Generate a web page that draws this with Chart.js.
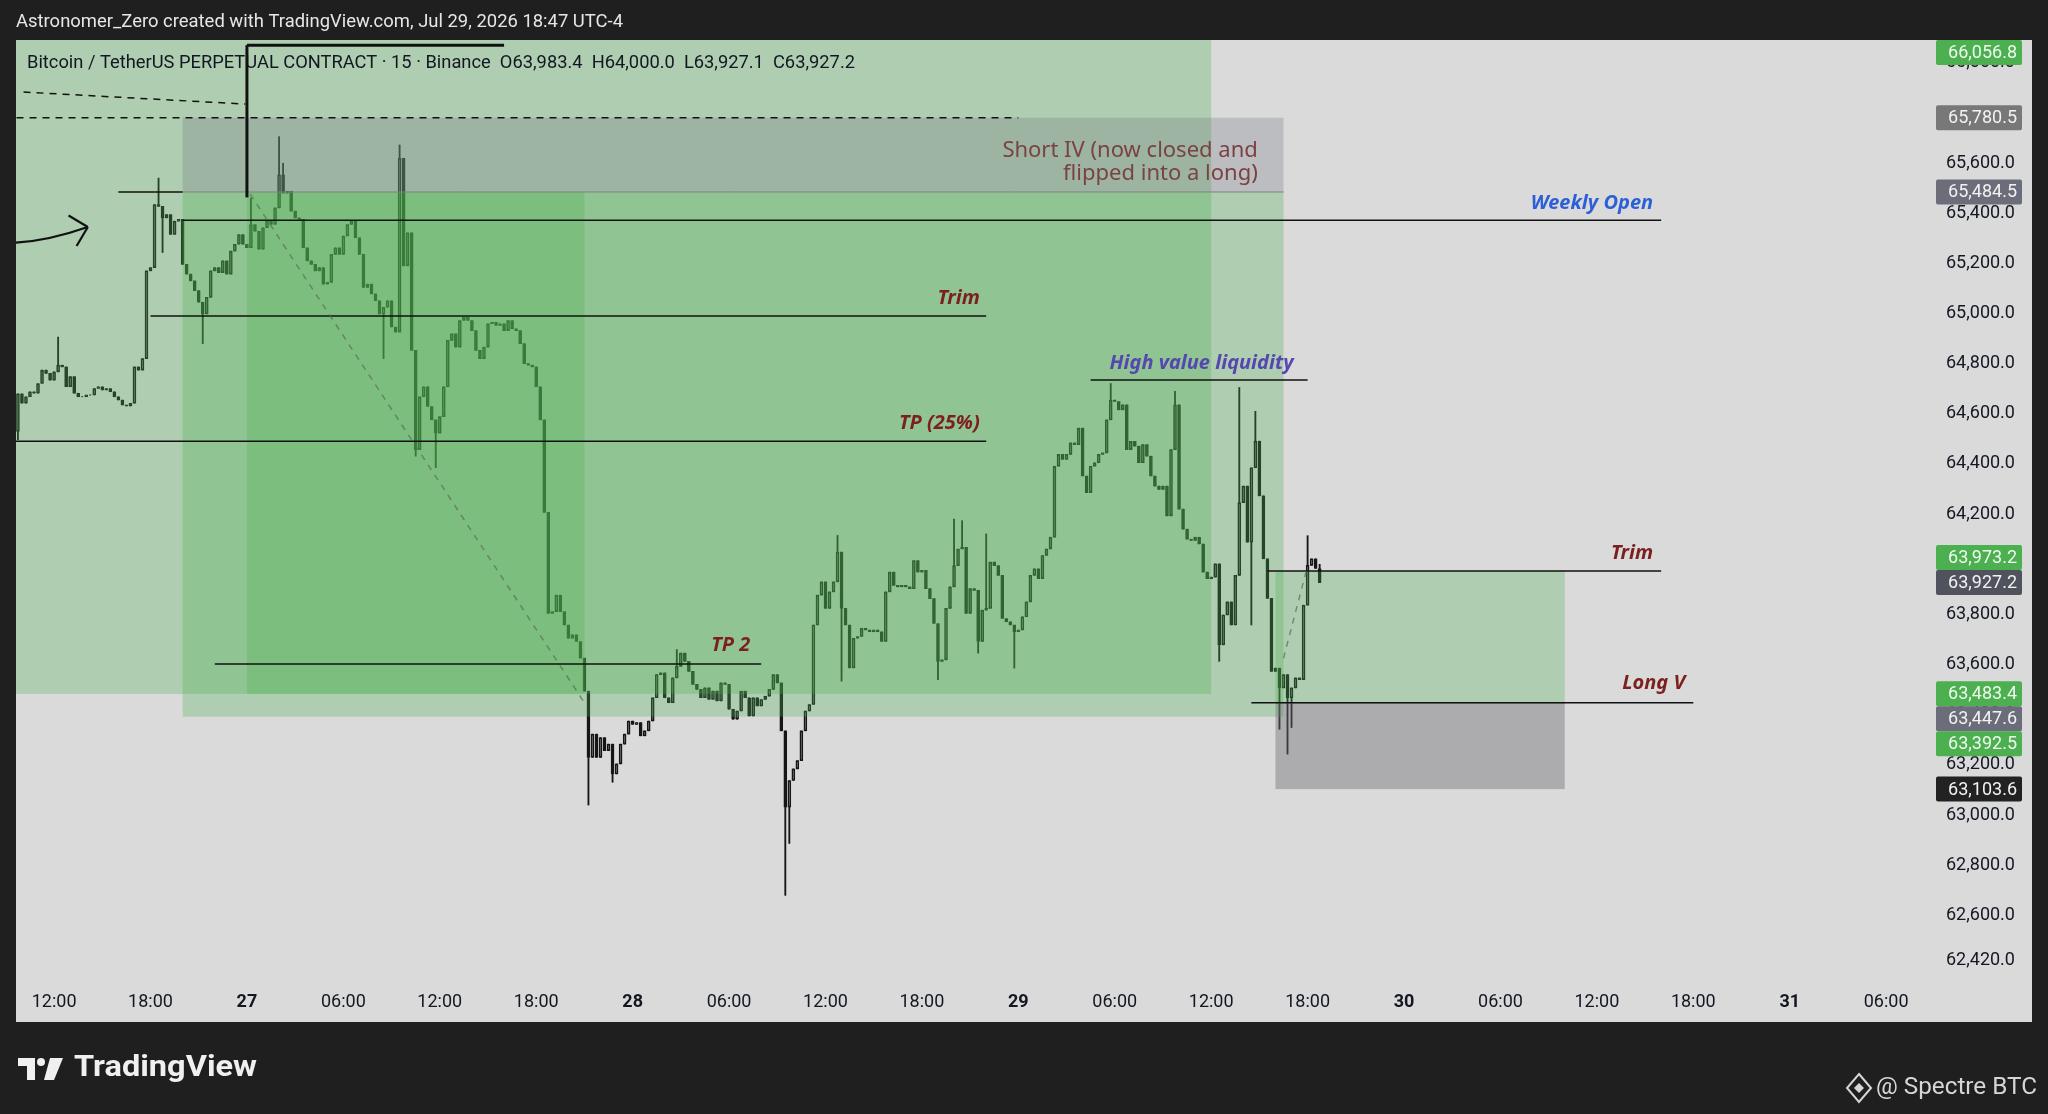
<!DOCTYPE html>
<html>
<head>
<meta charset="utf-8">
<title>BTCUSDT.P 15m</title>
<script src="https://cdn.jsdelivr.net/npm/chart.js@4.4.1/dist/chart.umd.min.js"></script>
<style>
  html, body { margin: 0; padding: 0; background: #1f1f1f; overflow: hidden; }
  #chart { display: block; }
</style>
</head>
<body>
<canvas id="chart" width="2048" height="1114"></canvas>
<script>
// Candles: 15m closes, hours counted from Jul 27 00:00 (UTC-4)
const startHour = -14.5;
const candleStep = 0.25;
const firstOpen = 64500;
const closes = [
  64530, 64680, 64642, 64668, 64688, 64682, 64721, 64774, 64761, 64734,
  64767, 64794, 64787, 64708, 64748, 64682, 64668, 64668, 64675, 64675,
  64701, 64708, 64695, 64701, 64688, 64668, 64655, 64635, 64631, 64642,
  64787, 64774, 64820, 65170, 65183, 65434, 65427, 65381, 65394, 65315,
  65368, 65375, 65196, 65157, 65130, 65091, 65045, 64998, 65064, 65170,
  65183, 65163, 65210, 65157, 65249, 65276, 65315, 65276, 65262, 65355,
  65328, 65256, 65342, 65368, 65355, 65421, 65553, 65480, 65487, 65408,
  65381, 65375, 65262, 65210, 65196, 65170, 65183, 65117, 65124, 65236,
  65262, 65236, 65309, 65355, 65368, 65302, 65236, 65104, 65117, 65078,
  65051, 64998, 65025, 65051, 64946, 64926, 65619, 65190, 65322, 64853,
  64457, 64668, 64708, 64629, 64576, 64523, 64589, 64708, 64893, 64919,
  64866, 64972, 64985, 64972, 64932, 64853, 64820, 64866, 64959, 64965,
  64952, 64959, 64932, 64972, 64939, 64932, 64880, 64800, 64794, 64787,
  64708, 64576, 64207, 63804, 63811, 63877, 63811, 63758, 63705, 63719,
  63692, 63626, 63494, 63230, 63323, 63230, 63309, 63257, 63283, 63164,
  63204, 63283, 63323, 63375, 63362, 63369, 63316, 63336, 63375, 63468,
  63560, 63567, 63468, 63448, 63547, 63593, 63646, 63613, 63573, 63521,
  63501, 63468, 63507, 63461, 63494, 63455, 63527, 63521, 63422, 63382,
  63415, 63494, 63468, 63395, 63468, 63435, 63461, 63474, 63501, 63560,
  63527, 63336, 63032, 63138, 63184, 63217, 63336, 63415, 63441, 63758,
  63877, 63930, 63824, 63890, 63930, 64049, 63824, 63758, 63587, 63705,
  63712, 63745, 63738, 63731, 63738, 63731, 63692, 63890, 63969, 63916,
  63910, 63916, 63910, 63903, 64015, 63969, 63976, 63903, 63863, 63764,
  63613, 63619, 63824, 63910, 63995, 64061, 64068, 63804, 63903, 63896,
  63692, 63817, 63824, 64009, 63995, 63956, 63784, 63771, 63758, 63731,
  63738, 63791, 63850, 63956, 63982, 63943, 64035, 64061, 64108, 64391,
  64438, 64418, 64438, 64484, 64477, 64543, 64352, 64286, 64391, 64405,
  64438, 64444, 64576, 64655, 64649, 64616, 64636, 64457, 64490, 64471,
  64405, 64477, 64431, 64352, 64312, 64299, 64312, 64193, 64457, 64636,
  64220, 64140, 64100, 64095, 64108, 64081, 63969, 63943, 63949, 64002,
  63679, 63798, 63850, 63758, 63956, 64246, 64312, 64088, 64385, 64491,
  64273, 64022, 63864, 63573, 63586, 63507, 63560, 63468, 63507, 63547,
  63540, 63837, 63996, 64022, 63983.4, 63927.2
];
// visible wicks: [candle index, price]
const wickHighs = [
  [11, 64906], [36, 65540], [59, 65460], [66, 65705], [67, 65599], [96, 65672],
  [165, 63660], [205, 64115], [234, 64180], [236, 64174], [242, 64121],
  [273, 64721], [289, 64690], [305, 64705], [309, 64610], [322, 64114], [325, 64000]
];
const wickLows = [
  [1, 64497], [37, 65243], [47, 64880], [92, 64820], [100, 64431], [105, 64385],
  [143, 63040], [149, 63131], [192, 62680], [193, 62887], [206, 63534],
  [230, 63540], [240, 63646], [249, 63586], [300, 63613], [308, 63758],
  [315, 63342], [317, 63243], [318, 63349], [325, 63927.1]
];

const timeTicks = [-12, -6, 0, 6, 12, 18, 24, 30, 36, 42, 48, 54, 60, 66, 72, 78, 84, 90, 96, 102];
const timeLabels = ['12:00', '18:00', '27', '06:00', '12:00', '18:00', '28', '06:00', '12:00', '18:00',
                    '29', '06:00', '12:00', '18:00', '30', '06:00', '12:00', '18:00', '31', '06:00'];
const priceTicks = [62420, 62600, 62800, 63000, 63200, 63400, 63600, 63800, 64000, 64200,
                    64400, 64600, 64800, 65000, 65200, 65400, 65600, 66000];

// drawings on the chart, in hours and prices
// zones: [fromHour, toHour, top, bottom, kind]
const zones = [
  [-20, 60, 66150, 63483.4, 'profit'],
  [-4, 64.5, 65780.5, 65484.5, 'stop'],
  [-4, 64.5, 65484.5, 63392.5, 'profit'],
  [0, 21, 65484.5, 63483.4, 'profit'],
  [64, 82, 63973.2, 63447.6, 'profit'],
  [64, 82, 63447.6, 63103.6, 'stopLong']
];
// horizontal levels: [fromHour, toHour, price, kind]
const levels = [
  [-4, 64.5, 65484.5, 'entry'],
  [64, 82, 63447.6, 'entry'],
  [-6, 46, 64990, 'solid'],
  [-20, 46, 64491, 'solid'],
  [-2, 32, 63602, 'solid'],
  [52.5, 66, 64735, 'solid'],
  [-4, 88, 65372, 'solid'],
  [63.5, 88, 63973.2, 'solid'],
  [62.5, 90, 63447.6, 'solid'],
  [-8, -4, 65484.5, 'solid'],
  [-20, 48, 65780.5, 'dash'],
  [0, 16, 66070, 'thick']
];
// free segments: [hour1, price1, hour2, price2, kind]
const segments = [
  [0, 66070, 0, 65463, 'thick'],
  [-13.9, 65883, -0.1, 65835, 'dash'],
  [0.2, 65476, 21, 63448, 'gray'],
  [64.5, 63625, 66, 63994, 'gray'],
  [-11.1, 65391, -9.9, 65345, 'arrow'],
  [-10.6, 65269, -9.9, 65345, 'arrow']
];
// arrow shaft: start, control, end
const arrowCurve = [[-14.45, 65282], [-12.35, 65290], [-9.9, 65345]];
// notes: [text, hour, price, align, kind]
const notes = [
  ['Trim', 45.6, 65059, 'right', 'level'],
  ['TP (25%)', 45.6, 64564, 'right', 'level'],
  ['TP 2', 30.1, 63679, 'center', 'level'],
  ['High value liquidity', 59.4, 64802, 'center', 'liquidity'],
  ['Weekly Open', 87.5, 65438, 'right', 'weekly'],
  ['Trim', 87.5, 64042, 'right', 'level'],
  ['Long V', 89.5, 63524, 'right', 'level'],
  ['Short IV (now closed and', 62.9, 65650, 'right', 'comment'],
  ['flipped into a long)', 62.9, 65557, 'right', 'comment']
];
// price axis tags: [price, kind]
const priceTags = [
  [66056.8, 'green'], [65780.5, 'gray'], [65484.5, 'slate'],
  [63973.2, 'green'], [63927.2, 'current'], [63483.4, 'green'],
  [63447.6, 'slate'], [63392.5, 'green'], [63103.6, 'black']
];

const titleText = 'Astronomer_Zero created with TradingView.com, Jul 29, 2026 18:47 UTC-4';
const legendText = 'Bitcoin / TetherUS PERPETUAL CONTRACT \u00b7 15 \u00b7 Binance  O63,983.4  H64,000.0  L63,927.1  C63,927.2';

// build OHLC
const highMap = new Map(wickHighs);
const lowMap = new Map(wickLows);
const bodies = [], upperWicks = [], lowerWicks = [], bodyFill = [];
closes.forEach((c, i) => {
  const o = i === 0 ? firstOpen : closes[i - 1];
  const x = startHour + i * candleStep;
  const top = Math.max(o, c), bot = Math.min(o, c);
  const hi = Math.max(top, highMap.get(i) ?? top);
  const lo = Math.min(bot, lowMap.get(i) ?? bot);
  bodies.push({ x, y: [o, c] });
  upperWicks.push({ x, y: [top, hi] });
  lowerWicks.push({ x, y: [lo, bot] });
  bodyFill.push(c >= o ? 'rgba(0,0,0,0)' : '#161616');
});

const FONT = 'Roboto, "Noto Sans", sans-serif';
const zoneFill = {
  profit: 'rgba(76,175,80,0.3)',
  stop: 'rgba(120,123,134,0.3)',
  stopLong: 'rgba(110,110,114,0.42)'
};
const noteStyle = {
  level: { color: '#7b1f1f', font: 'italic bold 20px "Noto Sans", sans-serif' },
  liquidity: { color: '#5646b0', font: 'italic bold 20px "Noto Sans", sans-serif' },
  weekly: { color: '#2d5fd6', font: 'italic bold 20px "Noto Sans", sans-serif' },
  comment: { color: '#7a4242', font: '22px "Noto Sans", sans-serif' }
};
const tagFill = { green: '#4caf50', gray: '#787878', slate: '#6b6e7a', current: '#50535e', black: '#222222' };

function fitText(ctx, text, x, y, width, font, color, align) {
  ctx.save();
  ctx.font = font;
  ctx.fillStyle = color;
  ctx.textBaseline = 'middle';
  ctx.textAlign = align || 'left';
  const k = width / ctx.measureText(text).width;
  ctx.translate(x, y);
  ctx.scale(k, 1);
  ctx.fillText(text, 0, 0);
  ctx.restore();
}

function strokeStyle(ctx, kind) {
  ctx.setLineDash([]);
  ctx.lineWidth = 1.5;
  ctx.strokeStyle = '#111';
  if (kind === 'thick') ctx.lineWidth = 3;
  if (kind === 'arrow') ctx.lineWidth = 2.2;
  if (kind === 'dash') ctx.setLineDash([7, 6]);
  if (kind === 'gray') { ctx.setLineDash([6, 6]); ctx.strokeStyle = 'rgba(90,110,90,0.7)'; }
  if (kind === 'entry') { ctx.lineWidth = 1; ctx.strokeStyle = '#7d837d'; }
}

const backdrop = {
  id: 'backdrop',
  beforeDraw(chart) {
    const ctx = chart.ctx;
    ctx.save();
    ctx.fillStyle = '#1f1f1f';
    ctx.fillRect(0, 0, chart.width, chart.height);
    ctx.fillStyle = '#dadada';
    ctx.fillRect(16, 40, 2016, 982);
    ctx.restore();
  }
};

const drawings = {
  id: 'drawings',
  afterDatasetsDraw(chart) {
    const { ctx, chartArea: a, scales: { x, y } } = chart;
    ctx.save();
    ctx.beginPath();
    ctx.rect(a.left, a.top, a.right - a.left, a.bottom - a.top);
    ctx.clip();

    zones.forEach(([h1, h2, p1, p2, kind]) => {
      const x1 = x.getPixelForValue(h1), x2 = x.getPixelForValue(h2);
      const y1 = y.getPixelForValue(p1), y2 = y.getPixelForValue(p2);
      ctx.fillStyle = zoneFill[kind];
      ctx.fillRect(x1, y1, x2 - x1, y2 - y1);
    });

    fitText(ctx, legendText, 27, 63, 828, '18px ' + FONT, '#131722');

    levels.forEach(([h1, h2, p, kind]) => {
      strokeStyle(ctx, kind);
      const py = y.getPixelForValue(p);
      ctx.beginPath();
      ctx.moveTo(x.getPixelForValue(h1), py);
      ctx.lineTo(x.getPixelForValue(h2), py);
      ctx.stroke();
    });

    segments.forEach(([h1, p1, h2, p2, kind]) => {
      strokeStyle(ctx, kind);
      ctx.beginPath();
      ctx.moveTo(x.getPixelForValue(h1), y.getPixelForValue(p1));
      ctx.lineTo(x.getPixelForValue(h2), y.getPixelForValue(p2));
      ctx.stroke();
    });

    strokeStyle(ctx, 'arrow');
    const [s, c, e] = arrowCurve.map(([h, p]) => [x.getPixelForValue(h), y.getPixelForValue(p)]);
    ctx.beginPath();
    ctx.moveTo(s[0], s[1]);
    ctx.quadraticCurveTo(c[0], c[1], e[0], e[1]);
    ctx.stroke();
    ctx.setLineDash([]);

    notes.forEach(([text, h, p, align, kind]) => {
      const st = noteStyle[kind];
      ctx.font = st.font;
      ctx.fillStyle = st.color;
      ctx.textAlign = align;
      ctx.textBaseline = 'middle';
      ctx.fillText(text, x.getPixelForValue(h), y.getPixelForValue(p));
    });
    ctx.restore();
  }
};

const frame = {
  id: 'frame',
  afterDraw(chart) {
    const { ctx, chartArea: a, scales: { y } } = chart;
    // price tags on the axis
    const h = 25;
    const items = priceTags.map(([p, k]) => ({ p, k, y: y.getPixelForValue(p) })).sort((m, n) => m.y - n.y);
    items[0].y = Math.max(items[0].y, a.top + h / 2);
    for (let i = 1; i < items.length; i++) {
      if (items[i].y - items[i - 1].y < h) {
        if (items[i].k === 'current') items[i - 1].y = items[i].y - h;
        else items[i].y = items[i - 1].y + h;
      }
    }
    ctx.save();
    items.forEach(it => {
      ctx.fillStyle = tagFill[it.k];
      ctx.beginPath();
      ctx.roundRect(1936, it.y - h / 2, 86, h, 2);
      ctx.fill();
      ctx.font = '18px ' + FONT;
      ctx.fillStyle = it.k === 'green' ? '#eefaee' : '#f2f2f2';
      ctx.textAlign = 'right';
      ctx.textBaseline = 'middle';
      ctx.fillText(it.p.toLocaleString('en-US', { minimumFractionDigits: 1, maximumFractionDigits: 1 }), 2017, it.y + 1);
    });

    // header and footer
    fitText(ctx, titleText, 16, 22, 607, '18px ' + FONT, '#e6e6e6');
    fitText(ctx, 'TradingView', 74, 1068, 183, 'bold 30px ' + FONT, '#f0f0f0');
    fitText(ctx, '@ Spectre BTC', 1876, 1088, 161, '24px ' + FONT, '#d6d6d6');

    // TradingView mark
    ctx.fillStyle = '#f0f0f0';
    ctx.fillRect(18, 1058, 17, 8);
    ctx.fillRect(27, 1058, 8, 22);
    ctx.beginPath();
    ctx.arc(41, 1062, 4, 0, Math.PI * 2);
    ctx.fill();
    ctx.beginPath();
    ctx.moveTo(50, 1058); ctx.lineTo(63, 1058); ctx.lineTo(54, 1080); ctx.lineTo(44, 1080);
    ctx.closePath();
    ctx.fill();

    // small diamond mark before the signature
    ctx.strokeStyle = '#d6d6d6';
    ctx.lineWidth = 2;
    ctx.beginPath();
    ctx.moveTo(1859, 1074); ctx.lineTo(1871, 1088); ctx.lineTo(1859, 1102); ctx.lineTo(1847, 1088);
    ctx.closePath();
    ctx.stroke();
    ctx.fillStyle = '#d6d6d6';
    ctx.beginPath();
    ctx.moveTo(1859, 1083); ctx.lineTo(1864, 1088); ctx.lineTo(1859, 1093); ctx.lineTo(1854, 1088);
    ctx.closePath();
    ctx.fill();
    ctx.restore();
  }
};

new Chart(document.getElementById('chart'), {
  type: 'bar',
  data: {
    datasets: [
      { label: 'body', data: bodies, backgroundColor: bodyFill, borderColor: '#161616',
        borderWidth: 1, borderSkipped: false, barThickness: 3, grouped: false },
      { label: 'upper wick', data: upperWicks, backgroundColor: '#161616', barThickness: 1.2, grouped: false },
      { label: 'lower wick', data: lowerWicks, backgroundColor: '#161616', barThickness: 1.2, grouped: false }
    ]
  },
  options: {
    responsive: false,
    devicePixelRatio: 1,
    animation: false,
    layout: { padding: { left: 16, right: 16, top: 40, bottom: 92 } },
    plugins: { legend: { display: false }, tooltip: { enabled: false } },
    scales: {
      x: {
        type: 'linear',
        min: -14.37,
        max: 104.48,
        offset: false,
        grid: { display: false, drawTicks: false },
        border: { display: false },
        afterBuildTicks: s => { s.ticks = timeTicks.map(v => ({ value: v })); },
        afterFit: s => { s.height = 40; },
        ticks: {
          autoSkip: false,
          maxRotation: 0,
          padding: 10,
          color: '#131722',
          font: c => ({ family: FONT, size: 18, weight: /^\d+$/.test(timeLabels[c.index]) ? 'bold' : 'normal' }),
          callback: (v, i) => timeLabels[i]
        }
      },
      y: {
        type: 'linear',
        position: 'right',
        min: 62334.5,
        max: 66090.5,
        grid: { display: false, drawTicks: false },
        border: { display: false },
        afterBuildTicks: s => { s.ticks = priceTicks.map(v => ({ value: v })); },
        afterFit: s => { s.width = 106; },
        ticks: {
          crossAlign: 'near',
          padding: 20,
          color: '#131722',
          font: { family: FONT, size: 18 },
          callback: v => v.toLocaleString('en-US', { minimumFractionDigits: 1, maximumFractionDigits: 1 })
        }
      }
    }
  },
  plugins: [backdrop, drawings, frame]
});
</script>
</body>
</html>
